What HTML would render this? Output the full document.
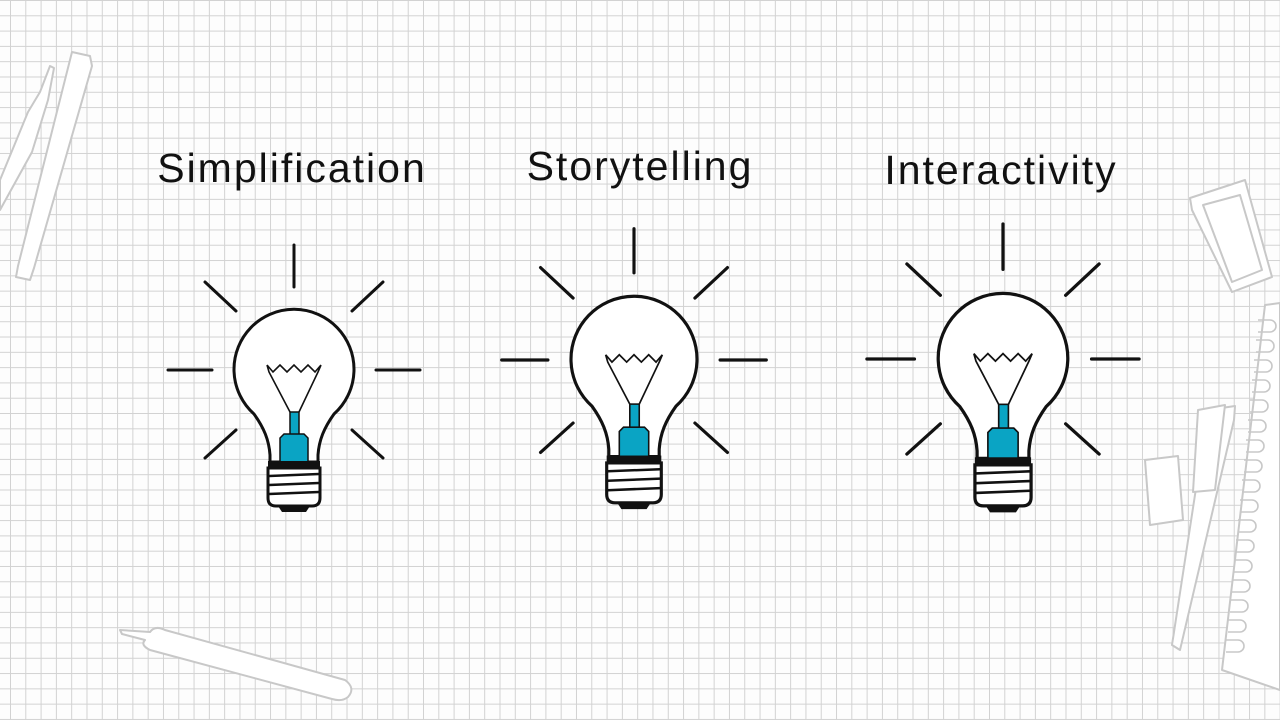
<!DOCTYPE html>
<html><head><meta charset="utf-8"><style>
html,body{margin:0;padding:0;}
body{width:1280px;height:720px;overflow:hidden;background-color:#fdfdfd;position:relative;font-family:"Liberation Sans",sans-serif;
background-image:linear-gradient(to right,#d2d2d2 1px,transparent 1px),linear-gradient(to bottom,#d2d2d2 1px,transparent 1px);
background-size:15.3px 15.3px;background-position:10px 0;}
.t{position:absolute;font-size:41px;letter-spacing:2px;color:#111;transform:translateX(-50%);white-space:nowrap;}
</style></head><body>
<svg width="1280" height="720" style="position:absolute;left:0;top:0">
<defs>
<g id="bulb">
<g stroke="#111" stroke-width="3" stroke-linecap="round" fill="none">
<line x1="0" y1="-125" x2="0" y2="-83"/>
<line x1="-126" y1="0" x2="-82" y2="0"/>
<line x1="82" y1="0" x2="126" y2="0"/>
<line x1="-89" y1="-88" x2="-58" y2="-59"/>
<line x1="89" y1="-88" x2="58" y2="-59"/>
<line x1="-89" y1="88" x2="-58" y2="60"/>
<line x1="89" y1="88" x2="58" y2="60"/>
</g>
<path d="M-40,44 A60,60 0 1 1 40,44 C30,58 25,70 24,85 L24,92 L-24,92 L-24,85 C-25,70 -30,58 -40,44 Z" fill="#fff" stroke="#111" stroke-width="3"/>
<path d="M-27,-5 L-21,2 L-14,-5 L-7,2 L0,-5 L7,2 L14,-5 L21,2 L27,-5 M-27,-5 L-25,2 L-4,42 M27,-5 L24,2 L5,42" fill="none" stroke="#111" stroke-width="1.6"/>
<rect x="-4" y="42" width="9" height="24" fill="#0aa4c4" stroke="#111" stroke-width="1.5"/>
<path d="M-14,92 L-14,68 L-10,64 L10,64 L14,68 L14,92 Z" fill="#0aa4c4" stroke="#111" stroke-width="1.5"/>
<rect x="-26" y="91" width="52" height="7" fill="#111"/>
<path d="M-26,98 L26,98 L26,128 Q26,136 18,136 L-18,136 Q-26,136 -26,128 Z" fill="#fff" stroke="#111" stroke-width="3"/>
<g stroke="#111" stroke-width="2.4"><line x1="-25" y1="106" x2="25" y2="104"/><line x1="-25" y1="115" x2="25" y2="113"/><line x1="-25" y1="124" x2="25" y2="122"/></g>
<path d="M-16,136 L16,136 L12,142 L-12,142 Z" fill="#111"/>
</g>
</defs>
<g fill="#fff" stroke="#c8c8c8" stroke-width="2" stroke-linejoin="round">
<!-- left pens -->
<polygon points="50,66 54,68 48,100 32,152 0,210 0,180 28,112 40,92"/>
<polygon points="72,52 90,56 92,66 34,268 30,280 16,277 18,266"/>
<!-- bottom pen -->
<path d="M120,630 L150,632 Q155,625 165,630 L345,680 Q356,688 348,697 Q342,702 332,699 L150,650 Q140,645 145,640 L122,634 Z"/>
<!-- eraser -->
<polygon points="1190,198 1245,180 1272,277 1232,292 1192,210"/>
<polygon points="1203,205 1240,195 1262,270 1232,282"/>
<!-- notebook -->
<polygon points="1265,305 1280,303 1280,690 1222,670"/>
<polygon points="1145,460 1178,456 1183,520 1150,525"/>
<polygon points="1208,410 1235,406 1234,420 1180,650 1172,645"/>
<polygon points="1198,410 1225,405 1215,490 1193,492"/>
</g>
<g fill="none" stroke="#c8c8c8" stroke-width="1.6">
<path d="M1258,320h12a6,6 0 0 1 0,12h-12 M1256,340h12a6,6 0 0 1 0,12h-12 M1254,360h12a6,6 0 0 1 0,12h-12 M1252,380h12a6,6 0 0 1 0,12h-12 M1250,400h12a6,6 0 0 1 0,12h-12 M1248,420h12a6,6 0 0 1 0,12h-12 M1246,440h12a6,6 0 0 1 0,12h-12 M1244,460h12a6,6 0 0 1 0,12h-12 M1242,480h12a6,6 0 0 1 0,12h-12 M1240,500h12a6,6 0 0 1 0,12h-12 M1238,520h12a6,6 0 0 1 0,12h-12 M1236,540h12a6,6 0 0 1 0,12h-12 M1234,560h12a6,6 0 0 1 0,12h-12 M1232,580h12a6,6 0 0 1 0,12h-12 M1230,600h12a6,6 0 0 1 0,12h-12 M1228,620h12a6,6 0 0 1 0,12h-12 M1226,640h12a6,6 0 0 1 0,12h-12"/>
</g>
<use href="#bulb" transform="translate(294,370)"/>
<use href="#bulb" transform="translate(634,360) scale(1.05)"/>
<use href="#bulb" transform="translate(1003,359) scale(1.08)"/>
</svg>
<div class="t" style="left:292px;top:145px">Simplification</div>
<div class="t" style="left:640px;top:143px">Storytelling</div>
<div class="t" style="left:1001px;top:147px">Interactivity</div>
</body></html>
